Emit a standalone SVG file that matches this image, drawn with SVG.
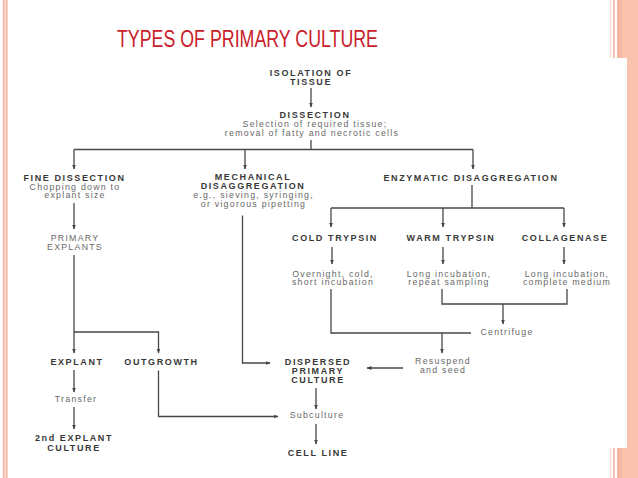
<svg xmlns="http://www.w3.org/2000/svg" width="638" height="478" viewBox="0 0 638 478">
<style>
.b{font-family:"Liberation Sans",Arial,sans-serif;font-weight:bold;font-size:9px;letter-spacing:1.6px;fill:#383838;text-anchor:middle}
.r{font-family:"Liberation Sans",Arial,sans-serif;font-size:8.8px;letter-spacing:1.25px;fill:#686868;text-anchor:middle}
.ln{fill:none;stroke:#474747;stroke-width:1.3}
.ar{fill:none;stroke:#474747;stroke-width:1.3;marker-end:url(#ah)}
.title{font-family:"Liberation Sans Narrow","Liberation Sans",Arial,sans-serif;font-size:24px;fill:#c9202a}
</style>
<defs>
<marker id="ah" viewBox="0 0 10 10" refX="9" refY="5" markerWidth="5" markerHeight="5" markerUnits="userSpaceOnUse" orient="auto">
<path d="M0,1 L10,5 L0,9 Z" fill="#474747"/>
</marker>
</defs>
<rect width="638" height="478" fill="#ffffff"/>
<g id="border">
<rect x="2.5" y="0" width="5" height="478" fill="#fbdcd0"/>
<rect x="3" y="0" width="1.5" height="478" fill="#f3baa6"/>
<rect x="6" y="0" width="1.5" height="478" fill="#f3baa6"/>
<rect x="627" y="0" width="11" height="478" fill="#f9c3ae"/>
<rect x="622" y="0" width="5" height="58" fill="#f9c3ae"/>
<rect x="617" y="0" width="5" height="58" fill="#f4b7a1"/>
<rect x="613" y="0" width="1.8" height="58" fill="#f4bca8"/>
<rect x="610" y="0" width="1.2" height="58" fill="#fbd6ca"/>
<rect x="622" y="448" width="5" height="30" fill="#f9c3ae"/>
<rect x="617" y="448" width="5" height="30" fill="#f4b7a1"/>
<rect x="613" y="448" width="1.8" height="30" fill="#f4bca8"/>
<rect x="610" y="448" width="1.2" height="30" fill="#fbd6ca"/>
</g>
<text class="title" x="117" y="47" textLength="261" lengthAdjust="spacingAndGlyphs">TYPES OF PRIMARY CULTURE</text>
<g id="connectors">
<line class="ar" x1="311" y1="88" x2="311" y2="107"/>
<line class="ln" x1="311" y1="140" x2="311" y2="149.5"/>
<line class="ln" x1="74" y1="149.5" x2="473" y2="149.5"/>
<line class="ar" x1="74" y1="149.5" x2="74" y2="169"/>
<line class="ar" x1="245" y1="149.5" x2="245" y2="169"/>
<line class="ar" x1="473" y1="149.5" x2="473" y2="169"/>
<line class="ar" x1="74" y1="203" x2="74" y2="229"/>
<line class="ar" x1="74" y1="255" x2="74" y2="353"/>
<polyline class="ar" points="74,332 158.5,332 158.5,353"/>
<line class="ar" x1="74" y1="370" x2="74" y2="392"/>
<line class="ar" x1="74" y1="407" x2="74" y2="429"/>
<polyline class="ar" points="158.5,370.5 158.5,416.5 278,416.5"/>
<polyline class="ar" points="242.5,215.5 242.5,363 270,363"/>
<line class="ln" x1="472" y1="185" x2="472" y2="208"/>
<line class="ln" x1="331" y1="208" x2="564" y2="208"/>
<line class="ar" x1="331" y1="208" x2="331" y2="227"/>
<line class="ar" x1="443" y1="208" x2="443" y2="227"/>
<line class="ar" x1="564" y1="208" x2="564" y2="227"/>
<line class="ar" x1="332" y1="247" x2="332" y2="264"/>
<line class="ar" x1="443" y1="247" x2="443" y2="264"/>
<line class="ar" x1="564" y1="247" x2="564" y2="264"/>
<polyline class="ln" points="442,289 442,304 567,304 567,289"/>
<line class="ar" x1="503" y1="304" x2="503" y2="324"/>
<polyline class="ln" points="331,289 331,333 471,333"/>
<line class="ar" x1="442" y1="333" x2="442" y2="353"/>
<line class="ar" x1="403" y1="368" x2="367" y2="368"/>
<line class="ar" x1="316" y1="388" x2="316" y2="409"/>
<line class="ar" x1="316" y1="424" x2="316" y2="444"/>
</g>
<g id="isolation"><text class="b" x="311" y="76">ISOLATION OF</text><text class="b" x="311" y="85">TISSUE</text></g>
<g id="dissection"><text class="b" x="315" y="117.5">DISSECTION</text><text class="r" x="315" y="126.5">Selection of required tissue;</text><text class="r" x="312" y="135.5">removal of fatty and necrotic cells</text></g>
<g id="fine-dissection"><text class="b" x="74.5" y="181">FINE DISSECTION</text><text class="r" x="75" y="189.5">Chopping down to</text><text class="r" x="75" y="198">explant size</text></g>
<g id="mechanical"><text class="b" x="253" y="180">MECHANICAL</text><text class="b" x="253" y="189">DISAGGREGATION</text><text class="r" x="253.5" y="198">e.g., sieving, syringing,</text><text class="r" x="253.5" y="207">or vigorous pipetting</text></g>
<g id="enzymatic"><text class="b" x="471" y="180.5">ENZYMATIC DISAGGREGATION</text></g>
<g id="primary-explants"><text class="r" x="75" y="241">PRIMARY</text><text class="r" x="75" y="249.5">EXPLANTS</text></g>
<g id="cold-trypsin"><text class="b" x="335" y="240.5">COLD TRYPSIN</text></g>
<g id="warm-trypsin"><text class="b" x="451" y="240.5">WARM TRYPSIN</text></g>
<g id="collagenase"><text class="b" x="565" y="240.5">COLLAGENASE</text></g>
<g id="cold-desc"><text class="r" x="333" y="276.5">Overnight, cold,</text><text class="r" x="333" y="285">short incubation</text></g>
<g id="warm-desc"><text class="r" x="449" y="276.5">Long incubation,</text><text class="r" x="449" y="285">repeat sampling</text></g>
<g id="coll-desc"><text class="r" x="567" y="276.5">Long incubation,</text><text class="r" x="567" y="285">complete medium</text></g>
<g id="centrifuge"><text class="r" x="507" y="335">Centrifuge</text></g>
<g id="resuspend"><text class="r" x="443" y="364">Resuspend</text><text class="r" x="443" y="372.5">and seed</text></g>
<g id="explant"><text class="b" x="77" y="365">EXPLANT</text></g>
<g id="outgrowth"><text class="b" x="161.5" y="365">OUTGROWTH</text></g>
<g id="transfer"><text class="r" x="76" y="402">Transfer</text></g>
<g id="second-explant"><text class="b" x="74" y="441">2nd EXPLANT</text><text class="b" x="74" y="450.5">CULTURE</text></g>
<g id="dispersed"><text class="b" x="318" y="365">DISPERSED</text><text class="b" x="318" y="374">PRIMARY</text><text class="b" x="318" y="383">CULTURE</text></g>
<g id="subculture"><text class="r" x="317" y="418">Subculture</text></g>
<g id="cell-line"><text class="b" x="318" y="456">CELL LINE</text></g>
</svg>
